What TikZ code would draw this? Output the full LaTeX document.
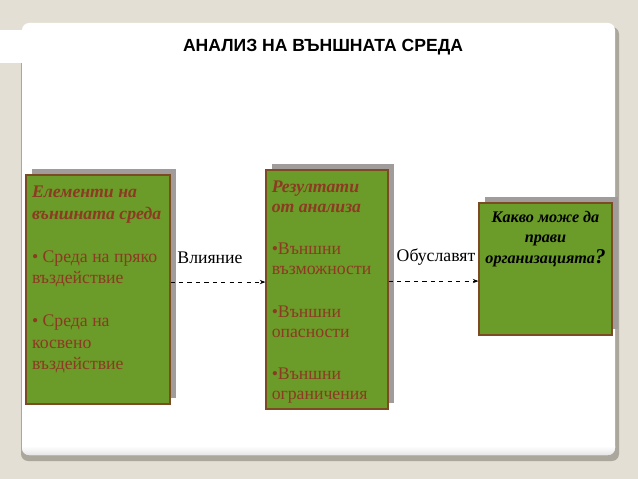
\documentclass[tikz,border=0pt]{standalone}
\usepackage{fontspec}
\setmainfont{Liberation Serif}
\newfontfamily\titlefont{Liberation Sans}
\usetikzlibrary{shadows,arrows.meta}

\definecolor{pagebg}{RGB}{228,223,212}
\definecolor{cardshade}{RGB}{172,167,157}
\definecolor{boxgreen}{RGB}{107,155,40}
\definecolor{boxrim}{RGB}{125,75,35}
\definecolor{boxshade}{RGB}{160,156,156}
\definecolor{boxtext}{RGB}{140,58,34}

\newcommand{\boxhead}[1]{\textbf{\textit{#1}}}

\tikzset{
  greenbox/.style={draw=boxrim, fill=boxgreen, line width=0.8pt, inner sep=0pt,
    drop shadow={shadow xshift=4pt, shadow yshift=4pt, fill=boxshade, opacity=1}},
  boxlabel/.style={anchor=north west, align=left, inner sep=0pt, text=boxtext},
  flow/.style={dashed, -{Stealth[length=4pt,width=3pt]}, line width=0.5pt},
  arrowlabel/.style={font=\rmfamily\fontsize{12.6}{14}\selectfont, inner sep=0pt}
}

\begin{document}
\begin{tikzpicture}[x=0.025cm, y=-0.025cm]

    % --- Page and card ---
    \fill[pagebg] (0,0) rectangle (638,479);
    \useasboundingbox (0,0) rectangle (638,479);
    \fill[cardshade, rounded corners=5pt] (21,27) rectangle (619,461);
    \fill[white, rounded corners=5pt] (22,23) rectangle (615,455);
    \begin{scope}
        \clip[rounded corners=5pt] (22,23) rectangle (615,455);
        \shade[top color=white, bottom color=black!10] (22,446) rectangle (615,455);
    \end{scope}
    % white tab on the left
    \fill[white] (0,30) rectangle (23,63);

    % --- Title ---
    \node[font=\titlefont\bfseries\fontsize{12.5}{15}\selectfont] (title) at (323,47)
        {АНАЛИЗ НА ВЪНШНАТА СРЕДА};

    % --- Boxes ---
    \node[greenbox, minimum width=3.6cm, minimum height=5.725cm] (elem) at (98,289.5) {};
    \node[greenbox, minimum width=3.05cm, minimum height=5.975cm] (res) at (327,289.5) {};
    \node[greenbox, minimum width=3.325cm, minimum height=3.3cm] (todo) at (545.5,269) {};

    % --- Box texts ---
    \node[boxlabel, font=\rmfamily\fontsize{12.6}{15.3}\selectfont] (elemtxt)
        at ([xshift=4.5pt, yshift=-8pt]elem.north west)
        {\boxhead{Елементи на}\\ \boxhead{външната среда}\\[15.3pt]
         • Среда на пряко\\ въздействие\\[15.3pt]
         • Среда на\\ косвено\\ въздействие};
    \node[boxlabel, font=\rmfamily\fontsize{12.6}{14.2}\selectfont] (restxt)
        at ([xshift=4.3pt, yshift=-8pt]res.north west)
        {\boxhead{Резултати}\\ \boxhead{от анализа}\\[16pt]
         •Външни\\ възможности\\[16pt]
         •Външни\\ опасности\\[16pt]
         •Външни\\ ограничения};
    \node[anchor=north, align=center, inner sep=0pt, font=\rmfamily\fontsize{11.5}{14.5}\selectfont]
        (todotxt) at ([yshift=-6pt]todo.north)
        {\boxhead{Какво може да}\\ \boxhead{прави}\\
         \boxhead{организацията{\fontsize{15}{15}\selectfont ?}}};

    % --- Connectors ---
    \draw[flow] ([yshift=5.3pt]elem.east) -- ([yshift=5.3pt]elem.east -| res.west);
    \draw[flow] ([yshift=6pt]res.east) -- ([yshift=6pt]res.east -| todo.west);

    % --- Connector labels ---
    \node[arrowlabel] (infl) at (210,258) {Влияние};
    \node[arrowlabel] (cond) at (436,257) {Обуславят};

\end{tikzpicture}
\end{document}
